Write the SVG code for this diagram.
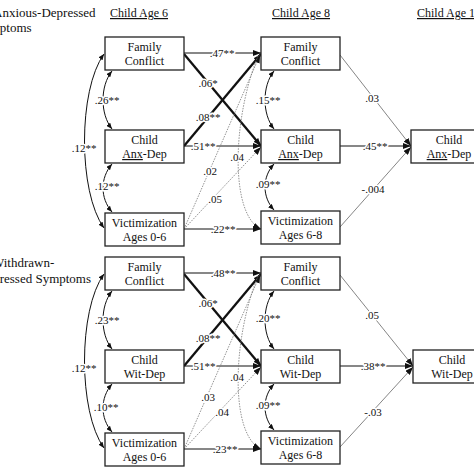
<svg xmlns="http://www.w3.org/2000/svg" width="474" height="474" viewBox="0 0 474 474">
<style>
text{font-family:"Liberation Serif","Times New Roman",serif;fill:#111}
.box{fill:#fff;stroke:#222;stroke-width:1.3}
.nt{font-size:12px;text-anchor:middle}
.hd{font-size:12px;text-decoration:underline}
.side{font-size:13px}
.lb{font-size:11px;text-anchor:middle;stroke:#fff;stroke-width:3;paint-order:stroke;stroke-linejoin:round}
.sol{fill:none;stroke:#111;stroke-width:1.1}
.thk{fill:none;stroke:#111;stroke-width:2.3}
.dot{fill:none;stroke:#777;stroke-width:0.8;stroke-dasharray:1.5 1.2}
.gry{fill:none;stroke:#666;stroke-width:0.8}
.cor{fill:none;stroke:#111;stroke-width:1}
</style>
<defs>
<marker id="ah" viewBox="0 0 8 6" refX="8" refY="3" markerWidth="8" markerHeight="6" markerUnits="userSpaceOnUse" orient="auto-start-reverse">
<path d="M0 0 L8 3 L0 6 Z" fill="#111"/>
</marker>
<marker id="as" viewBox="0 0 6 5" refX="6" refY="2.5" markerWidth="6" markerHeight="5" markerUnits="userSpaceOnUse" orient="auto-start-reverse">
<path d="M0 0 L6 2.5 L0 5 Z" fill="#111"/>
</marker>
</defs>
<rect width="474" height="474" fill="#fff"/>

<g id="headers">
<text class="side" x="-7" y="17">Anxious-Depressed</text>
<text class="side" x="-24" y="32">Symptoms</text>
<text class="side" x="-8" y="267">Withdrawn-</text>
<text class="side" x="-22" y="283">Depressed Symptoms</text>
<text class="hd" x="110" y="17">Child Age 6</text>
<text class="hd" x="272" y="17">Child Age 8</text>
<text class="hd" x="417" y="17">Child Age 10</text>
</g>

<g id="connectors">
<!-- top panel -->
<path class="sol" d="M184 53 L261 53" marker-end="url(#ah)"/>
<path class="thk" d="M184 54 L261 146" marker-end="url(#ah)"/>
<path class="thk" d="M184 146 L261 54" marker-end="url(#ah)"/>
<path class="sol" d="M184 146 L261 146" marker-end="url(#ah)"/>
<path class="sol" d="M184 229 L261 229" marker-end="url(#ah)"/>
<path class="dot" d="M184 229 L260 55" marker-end="url(#ah)"/>
<path class="dot" d="M184 229 L261 147" marker-end="url(#ah)"/>
<path class="dot" d="M258 56 C232 120 230 215 261 229" marker-end="url(#ah)"/>
<path class="gry" d="M340 55 L411 146" marker-end="url(#ah)"/>
<path class="sol" d="M340 146 L411 146" marker-end="url(#ah)"/>
<path class="gry" d="M340 227 L411 147" marker-end="url(#ah)"/>
<path class="cor" d="M112 71 C100 86 100 114 112 129" marker-start="url(#as)" marker-end="url(#as)"/>
<path class="cor" d="M112 164 C100 178 100 198 112 212" marker-start="url(#as)" marker-end="url(#as)"/>
<path class="cor" d="M104 54 C78 90 78 192 104 228" marker-start="url(#as)" marker-end="url(#as)"/>
<path class="cor" d="M274 71 C262 86 262 114 274 129" marker-start="url(#as)" marker-end="url(#as)"/>
<path class="cor" d="M274 164 C262 177 262 197 274 210" marker-start="url(#as)" marker-end="url(#as)"/>
<!-- bottom panel -->
<path class="sol" d="M184 273 L261 273" marker-end="url(#ah)"/>
<path class="thk" d="M184 274 L261 366" marker-end="url(#ah)"/>
<path class="thk" d="M184 366 L261 274" marker-end="url(#ah)"/>
<path class="sol" d="M184 366 L261 366" marker-end="url(#ah)"/>
<path class="sol" d="M184 449 L261 449" marker-end="url(#ah)"/>
<path class="dot" d="M184 449 L260 275" marker-end="url(#ah)"/>
<path class="dot" d="M184 449 L261 367" marker-end="url(#ah)"/>
<path class="dot" d="M258 276 C232 340 230 435 261 449" marker-end="url(#ah)"/>
<path class="gry" d="M340 275 L413 366" marker-end="url(#ah)"/>
<path class="sol" d="M340 366 L413 366" marker-end="url(#ah)"/>
<path class="gry" d="M340 447 L413 367" marker-end="url(#ah)"/>
<path class="cor" d="M112 291 C100 306 100 334 112 349" marker-start="url(#as)" marker-end="url(#as)"/>
<path class="cor" d="M112 384 C100 398 100 418 112 432" marker-start="url(#as)" marker-end="url(#as)"/>
<path class="cor" d="M104 274 C78 310 78 412 104 448" marker-start="url(#as)" marker-end="url(#as)"/>
<path class="cor" d="M274 291 C262 306 262 334 274 349" marker-start="url(#as)" marker-end="url(#as)"/>
<path class="cor" d="M274 384 C262 397 262 417 274 430" marker-start="url(#as)" marker-end="url(#as)"/>
</g>

<g id="labels">
<text class="lb" x="222" y="57">.47**</text>
<text class="lb" x="208" y="87">.06*</text>
<text class="lb" x="208" y="121">.08**</text>
<text class="lb" x="203" y="150">.51**</text>
<text class="lb" x="210" y="175">.02</text>
<text class="lb" x="215" y="203">.05</text>
<text class="lb" x="237" y="161">.04</text>
<text class="lb" x="223" y="233">.22**</text>
<text class="lb" x="107" y="104">.26**</text>
<text class="lb" x="107" y="190">.12**</text>
<text class="lb" x="84" y="152">.12**</text>
<text class="lb" x="268" y="104">.15**</text>
<text class="lb" x="268" y="188">.09**</text>
<text class="lb" x="372" y="102">.03</text>
<text class="lb" x="375" y="150">.45**</text>
<text class="lb" x="373" y="193">-.004</text>

<text class="lb" x="223" y="277">.48**</text>
<text class="lb" x="208" y="307">.06*</text>
<text class="lb" x="208" y="342">.08**</text>
<text class="lb" x="203" y="370">.51**</text>
<text class="lb" x="208" y="401">.03</text>
<text class="lb" x="222" y="416">.04</text>
<text class="lb" x="237" y="381">.04</text>
<text class="lb" x="225" y="453">.23**</text>
<text class="lb" x="107" y="324">.23**</text>
<text class="lb" x="106" y="411">.10**</text>
<text class="lb" x="84" y="372">.12**</text>
<text class="lb" x="268" y="322">.20**</text>
<text class="lb" x="268" y="409">.09**</text>
<text class="lb" x="372" y="319">.05</text>
<text class="lb" x="373" y="370">.38**</text>
<text class="lb" x="373" y="416">-.03</text>
</g>

<g id="t_fc6"><rect class="box" x="105" y="37" width="79" height="33"/><text class="nt" x="144.5" y="51">Family</text><text class="nt" x="144.5" y="65">Conflict</text></g>
<g id="t_ch6"><rect class="box" x="105" y="130" width="79" height="33"/><text class="nt" x="144.5" y="144">Child</text><text class="nt" x="144.5" y="158"><tspan text-decoration="underline">Anx</tspan>-Dep</text></g>
<g id="t_vi6"><rect class="box" x="105" y="213" width="79" height="33"/><text class="nt" x="144.5" y="227">Victimization</text><text class="nt" x="144.5" y="241">Ages 0-6</text></g>
<g id="t_fc8"><rect class="box" x="261" y="37" width="79" height="33"/><text class="nt" x="300.5" y="51">Family</text><text class="nt" x="300.5" y="65">Conflict</text></g>
<g id="t_ch8"><rect class="box" x="261" y="130" width="79" height="33"/><text class="nt" x="300.5" y="144">Child</text><text class="nt" x="300.5" y="158"><tspan text-decoration="underline">Anx</tspan>-Dep</text></g>
<g id="t_vi8"><rect class="box" x="261" y="211" width="79" height="33"/><text class="nt" x="300.5" y="225">Victimization</text><text class="nt" x="300.5" y="239">Ages 6-8</text></g>
<g id="t_ch10"><rect class="box" x="411" y="130" width="79" height="33"/><text class="nt" x="449" y="144">Child</text><text class="nt" x="449" y="158"><tspan text-decoration="underline">Anx</tspan>-Dep</text></g>

<g id="b_fc6"><rect class="box" x="105" y="257" width="79" height="33"/><text class="nt" x="144.5" y="271">Family</text><text class="nt" x="144.5" y="285">Conflict</text></g>
<g id="b_ch6"><rect class="box" x="105" y="350" width="79" height="33"/><text class="nt" x="144.5" y="364">Child</text><text class="nt" x="144.5" y="378">Wit-Dep</text></g>
<g id="b_vi6"><rect class="box" x="105" y="433" width="79" height="33"/><text class="nt" x="144.5" y="447">Victimization</text><text class="nt" x="144.5" y="461">Ages 0-6</text></g>
<g id="b_fc8"><rect class="box" x="261" y="257" width="79" height="33"/><text class="nt" x="300.5" y="271">Family</text><text class="nt" x="300.5" y="285">Conflict</text></g>
<g id="b_ch8"><rect class="box" x="261" y="350" width="79" height="33"/><text class="nt" x="300.5" y="364">Child</text><text class="nt" x="300.5" y="378">Wit-Dep</text></g>
<g id="b_vi8"><rect class="box" x="261" y="431" width="79" height="33"/><text class="nt" x="300.5" y="445">Victimization</text><text class="nt" x="300.5" y="459">Ages 6-8</text></g>
<g id="b_ch10"><rect class="box" x="413" y="350" width="79" height="33"/><text class="nt" x="452" y="364">Child</text><text class="nt" x="452" y="378">Wit-Dep</text></g>
</svg>
